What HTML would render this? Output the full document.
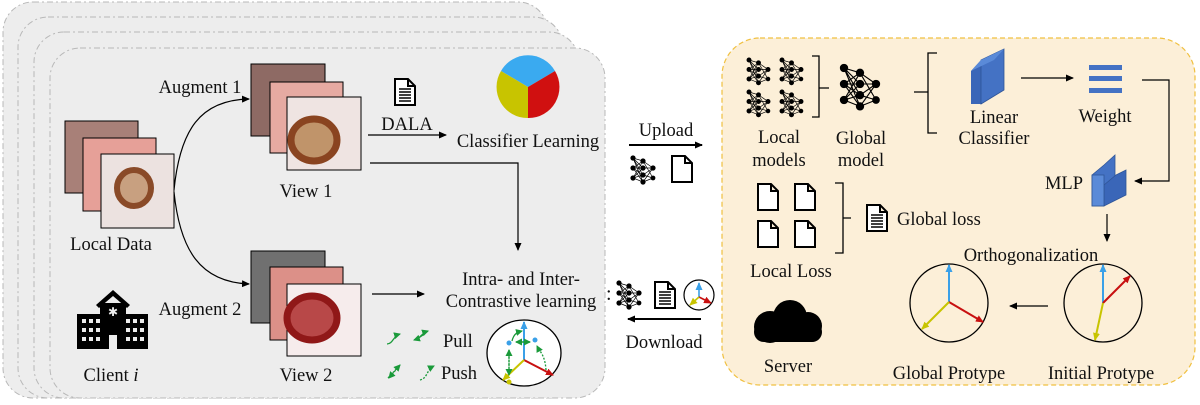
<!DOCTYPE html>
<html><head><meta charset="utf-8"><style>
html,body{margin:0;padding:0;background:#fff;}
svg{display:block;font-family:"Liberation Serif",serif;}
text{font-size:18.5px;fill:#111;}
</style></head><body>
<svg width="1200" height="405" viewBox="0 0 1200 405" xmlns="http://www.w3.org/2000/svg">
<defs>
<marker id="ar" markerWidth="8" markerHeight="8" refX="7" refY="4" orient="auto" markerUnits="userSpaceOnUse"><path d="M0,0.5 L8,4 L0,7.5z" fill="#000"/></marker>
<marker id="ab" markerWidth="8" markerHeight="8" refX="7" refY="4" orient="auto" markerUnits="userSpaceOnUse"><path d="M0,0.5 L8,4 L0,7.5z" fill="#3aa0e8"/></marker>
<marker id="arr" markerWidth="8" markerHeight="8" refX="7" refY="4" orient="auto" markerUnits="userSpaceOnUse"><path d="M0,0.5 L8,4 L0,7.5z" fill="#c81010"/></marker>
<marker id="ay" markerWidth="8" markerHeight="8" refX="7" refY="4" orient="auto" markerUnits="userSpaceOnUse"><path d="M0,0.5 L8,4 L0,7.5z" fill="#c8c400"/></marker>
<marker id="ag" markerWidth="7" markerHeight="7" refX="6" refY="3.5" orient="auto" markerUnits="userSpaceOnUse"><path d="M0,0 L7,3.5 L0,7z" fill="#1a9a3a"/></marker>
<g id="nn">
<g stroke="#000" stroke-width="0.7">
<path d="M0,0 L10,3 M0,0 L10,10 M0,0 L10,17 M0,10 L10,3 M0,10 L10,10 M0,10 L10,17 M0,20 L10,3 M0,20 L10,10 M0,20 L10,17 M0,20 L10,24 M0,10 L10,24 M0,0 L10,24 M10,3 L20,10 M10,10 L20,10 M10,17 L20,10 M10,24 L20,10 M10,3 L20,20 M10,17 L20,20 M10,24 L20,20"/>
</g>
<g fill="#000"><circle cx="0" cy="0" r="2.6"/><circle cx="0" cy="10" r="2.6"/><circle cx="0" cy="20" r="2.6"/><circle cx="10" cy="3" r="2.6"/><circle cx="10" cy="10" r="2.6"/><circle cx="10" cy="17" r="2.6"/><circle cx="10" cy="24" r="2.6"/><circle cx="20" cy="10" r="2.6"/><circle cx="20" cy="20" r="2.4"/></g>
</g>
<g id="doc"><path d="M0,0 H13 L20,7 V26 H0Z M13,0 V7 H20" fill="#fff" stroke="#000" stroke-width="2"/></g>
<g id="docl"><path d="M0,0 H13 L20,7 V26 H0Z M13,0 V7 H20" fill="#fff" stroke="#000" stroke-width="2"/><path d="M4,10 H16 M4,13 H16 M4,16 H16 M4,19 H16 M4,22 H16" stroke="#000" stroke-width="1.4"/></g>
</defs>

<g fill="#ededed" stroke="#b8b8b8" stroke-width="1" stroke-dasharray="6,3,2,3">
<rect x="3" y="2" width="545" height="396" rx="30"/>
<rect x="18" y="17" width="545" height="381" rx="30"/>
<rect x="34" y="32" width="545" height="366" rx="30"/>
<rect x="50" y="48" width="555" height="350" rx="30"/>
</g>

<rect x="65" y="121" width="73" height="72" fill="#a88078" stroke="#000"/>
<rect x="83" y="138" width="73" height="73" fill="#e6a098" stroke="#000"/>
<rect x="101" y="154" width="73" height="74" fill="#ece2e0" stroke="#000"/>
<ellipse cx="134" cy="188" rx="17" ry="18" fill="#c8a080" stroke="#8a4a28" stroke-width="6"/>
<text x="111" y="250" text-anchor="middle">Local Data</text>

<path d="M174,190 C180,130 200,100 249,99" fill="none" stroke="#000" stroke-width="1.2" marker-end="url(#ar)"/>
<path d="M174,192 C180,250 200,282 249,284" fill="none" stroke="#000" stroke-width="1.2" marker-end="url(#ar)"/>
<text x="200" y="93" text-anchor="middle">Augment 1</text>
<text x="200" y="315" text-anchor="middle">Augment 2</text>

<rect x="251" y="64" width="74" height="72" fill="#8e6a64" stroke="#000"/>
<rect x="270" y="82" width="73" height="71" fill="#e6aaa2" stroke="#000"/>
<rect x="287" y="97" width="74" height="73" fill="#efe4e2" stroke="#000"/>
<ellipse cx="314" cy="140" rx="23" ry="21" fill="#c0946a" stroke="#8a4420" stroke-width="7"/>
<text x="306" y="197" text-anchor="middle">View 1</text>

<rect x="251" y="251" width="74" height="72" fill="#707070" stroke="#000"/>
<rect x="270" y="267" width="73" height="73" fill="#dc9088" stroke="#000"/>
<rect x="287" y="284" width="74" height="72" fill="#f6ecec" stroke="#000"/>
<ellipse cx="312" cy="318" rx="25" ry="22" fill="#b84848" stroke="#901818" stroke-width="7"/>
<text x="306" y="381" text-anchor="middle">View 2</text>

<g fill="#000">
<path d="M113,290 L130,305 L127,308 L113,296 L99,308 L96,305Z"/>
<rect x="77" y="314" width="71" height="35"/>
<rect x="100" y="303" width="26" height="13"/>
</g>
<g fill="#ededed">
<rect x="82" y="319" width="4" height="4"/><rect x="89" y="319" width="4" height="4"/><rect x="96" y="319" width="4" height="4"/>
<rect x="126" y="319" width="4" height="4"/><rect x="133" y="319" width="4" height="4"/><rect x="140" y="319" width="4" height="4"/>
<rect x="82" y="328" width="4" height="4"/><rect x="89" y="328" width="4" height="4"/><rect x="96" y="328" width="4" height="4"/>
<rect x="126" y="328" width="4" height="4"/><rect x="133" y="328" width="4" height="4"/><rect x="140" y="328" width="4" height="4"/>
<rect x="82" y="337" width="4" height="4"/><rect x="89" y="337" width="4" height="4"/><rect x="96" y="337" width="4" height="4"/>
<rect x="126" y="337" width="4" height="4"/><rect x="133" y="337" width="4" height="4"/><rect x="140" y="337" width="4" height="4"/>
<rect x="109" y="335" width="8" height="14"/>
<text x="113" y="316" text-anchor="middle" style="font-size:12px;fill:#ededed">✱</text>
</g>
<text x="111" y="381" text-anchor="middle">Client <tspan font-style="italic">i</tspan></text>

<use href="#docl" x="395" y="79"/>
<text x="407" y="130" text-anchor="middle">DALA</text>
<line x1="368" y1="135" x2="446" y2="135" stroke="#000" stroke-width="1.2" marker-end="url(#ar)"/>
<text x="528" y="147" text-anchor="middle">Classifier Learning</text>
<path d="M528,87 L501,71 A31,31 0 0 1 555,71Z" fill="#3aaaf0"/>
<path d="M528,87 L555,71 A31,31 0 0 1 528,118Z" fill="#d01010"/>
<path d="M528,87 L528,118 A31,31 0 0 1 501,71Z" fill="#c8c400"/>

<path d="M370,163 H518 V250" fill="none" stroke="#000" stroke-width="1.2" marker-end="url(#ar)"/>
<line x1="372" y1="294" x2="424" y2="294" stroke="#000" stroke-width="1.2" marker-end="url(#ar)"/>
<text x="521" y="285" text-anchor="middle">Intra- and Inter-</text>
<text x="521" y="307" text-anchor="middle">Contrastive learning</text>

<g stroke="#1a9a3a" stroke-width="1.3" fill="none">
<path d="M387,344 C393,344 393,336 400,334" marker-end="url(#ag)"/>
<path d="M416,340 C420,338 422,333 428,331" marker-end="url(#ag)"/>
<path d="M428,331 C424,334 420,338 414,340" marker-end="url(#ag)"/>
<path d="M388,378 L400,365" stroke-dasharray="2,1.5" marker-end="url(#ag)"/>
<path d="M400,365 L389,378" stroke-dasharray="2,1.5" marker-end="url(#ag)"/>
<path d="M420,380 C428,378 426,370 434,366" stroke-dasharray="2,1.5" marker-end="url(#ag)"/>
</g>
<text x="443" y="347">Pull</text>
<text x="441" y="379">Push</text>
<ellipse cx="524" cy="353" rx="37" ry="33" fill="#fff" stroke="#000" stroke-width="1.3"/>
<line x1="524" y1="360" x2="524" y2="322" stroke="#3aa0e8" stroke-width="2" marker-end="url(#ab)"/>
<line x1="524" y1="360" x2="553" y2="375" stroke="#c81010" stroke-width="2" marker-end="url(#arr)"/>
<line x1="524" y1="360" x2="503" y2="380" stroke="#c8c400" stroke-width="2" marker-end="url(#ay)"/>
<circle cx="509" cy="343" r="2.5" fill="#3aa0e8"/><circle cx="535" cy="340" r="2.5" fill="#3aa0e8"/><circle cx="509" cy="382" r="2.5" fill="#c8c400"/>
<g stroke="#1a9a3a" stroke-width="1.3" fill="none">
<path d="M512,341 C514,333 518,332 522,331" marker-end="url(#ag)"/>
<path d="M516,342 L530,342" marker-end="url(#ag)"/>
<path d="M530,342 L516,342" marker-end="url(#ag)"/>
<path d="M509,372 L509,350" stroke-dasharray="2,1.5" marker-end="url(#ag)"/>
<path d="M509,350 L509,375" stroke-dasharray="2,1.5" marker-end="url(#ag)"/>
<path d="M546,370 C545,355 540,352 537,346" stroke-dasharray="2,1.5" marker-end="url(#ag)"/>
</g>
<text x="606" y="300" style="font-size:20px">:</text>

<text x="666" y="136" text-anchor="middle">Upload</text>
<line x1="629" y1="145" x2="702" y2="145" stroke="#000" stroke-width="2" marker-end="url(#ar)"/>
<g transform="translate(633,158)"><use href="#nn"/></g>
<use href="#doc" x="672" y="156"/>
<g transform="translate(619,283)"><use href="#nn"/></g>
<use href="#docl" x="655" y="282"/>
<circle cx="699" cy="295" r="15" fill="#fff" stroke="#000" stroke-width="1.2"/>
<line x1="699" y1="297" x2="699" y2="283" stroke="#3aa0e8" stroke-width="1.6" marker-end="url(#ab)"/>
<line x1="699" y1="297" x2="711" y2="303" stroke="#c81010" stroke-width="1.6" marker-end="url(#arr)"/>
<line x1="699" y1="297" x2="690" y2="305" stroke="#c8c400" stroke-width="1.6" marker-end="url(#ay)"/>
<line x1="701" y1="319" x2="628" y2="319" stroke="#000" stroke-width="2" marker-end="url(#ar)"/>
<text x="664" y="348" text-anchor="middle">Download</text>

<rect x="722" y="38" width="473" height="347" rx="38" fill="#fcefd8" stroke="#f0c040" stroke-width="1.2" stroke-dasharray="5,3"/>

<g transform="translate(749,60) scale(0.95)"><use href="#nn"/></g>
<g transform="translate(782,60) scale(0.95)"><use href="#nn"/></g>
<g transform="translate(749,92) scale(0.95)"><use href="#nn"/></g>
<g transform="translate(782,92) scale(0.95)"><use href="#nn"/></g>
<path d="M812,56 H819 V117 H812 M819,88 H829" fill="none" stroke="#000" stroke-width="1.3"/>
<text x="779" y="143" text-anchor="middle">Local</text>
<text x="779" y="166" text-anchor="middle">models</text>
<g transform="translate(844,68) scale(1.6)"><use href="#nn"/></g>
<text x="861" y="144" text-anchor="middle">Global</text>
<text x="861" y="166" text-anchor="middle">model</text>
<path d="M937,53 H928 V133 H937 M914,92 H928" fill="none" stroke="#000" stroke-width="1.3"/>

<path d="M971,71 L981,60 L981,104 L971,104Z" fill="#3a66b8"/>
<path d="M981,60 L1004,49 L1004,90 L981,104Z" fill="#4472c4" stroke="#2f5597" stroke-width="0.8"/>
<path d="M971,71 L994,60 L1004,49 L981,60Z" fill="#5a8ad8"/>
<text x="994" y="123" text-anchor="middle">Linear</text>
<text x="994" y="144" text-anchor="middle">Classifier</text>
<line x1="1021" y1="78" x2="1073" y2="78" stroke="#000" stroke-width="1.2" marker-end="url(#ar)"/>
<g fill="#4472c4"><rect x="1089" y="65" width="33" height="5"/><rect x="1089" y="76" width="33" height="5"/><rect x="1089" y="88" width="33" height="5"/></g>
<text x="1105" y="122" text-anchor="middle">Weight</text>
<path d="M1142,80 H1169 V181 H1135" fill="none" stroke="#000" stroke-width="1.2" marker-end="url(#ar)"/>

<path d="M1092,175 L1104,165 L1115,155 L1115,190 L1104,206 L1092,206Z" fill="#4472c4" stroke="#2f5597" stroke-width="0.8"/>
<path d="M1104,185 L1116,175 L1126,170 L1126,195 L1104,206Z" fill="#3a66b8" stroke="#2f5597" stroke-width="0.8"/>
<rect x="1092" y="175" width="12" height="31" fill="#5a8ad8" stroke="#2f5597" stroke-width="0.8"/>
<text x="1064" y="189" text-anchor="middle">MLP</text>
<line x1="1107" y1="214" x2="1107" y2="241" stroke="#000" stroke-width="1.2" marker-end="url(#ar)"/>
<text x="1031" y="261" text-anchor="middle">Orthogonalization</text>

<circle cx="949" cy="303" r="39" fill="none" stroke="#000" stroke-width="1.3"/>
<line x1="949" y1="302" x2="949" y2="265" stroke="#3aa0e8" stroke-width="2" marker-end="url(#ab)"/>
<line x1="949" y1="302" x2="983" y2="322" stroke="#c81010" stroke-width="2" marker-end="url(#arr)"/>
<line x1="949" y1="302" x2="922" y2="329" stroke="#c8c400" stroke-width="2" marker-end="url(#ay)"/>
<circle cx="1103" cy="303" r="39" fill="none" stroke="#000" stroke-width="1.3"/>
<line x1="1103" y1="303" x2="1103" y2="265" stroke="#3aa0e8" stroke-width="2" marker-end="url(#ab)"/>
<line x1="1103" y1="303" x2="1130" y2="276" stroke="#c81010" stroke-width="2" marker-end="url(#arr)"/>
<line x1="1103" y1="303" x2="1095" y2="340" stroke="#c8c400" stroke-width="2" marker-end="url(#ay)"/>
<line x1="1048" y1="306" x2="1010" y2="306" stroke="#000" stroke-width="1.2" marker-end="url(#ar)"/>
<text x="949" y="379" text-anchor="middle">Global Protype</text>
<text x="1101" y="379" text-anchor="middle">Initial Protype</text>

<use href="#doc" x="758" y="184"/><use href="#doc" x="795" y="184"/>
<use href="#doc" x="758" y="221"/><use href="#doc" x="795" y="221"/>
<path d="M835,183 H843 V253 H835 M843,218 H851" fill="none" stroke="#000" stroke-width="1.3"/>
<use href="#docl" x="867" y="205"/>
<text x="897" y="225">Global loss</text>
<text x="791" y="277" text-anchor="middle">Local Loss</text>

<g fill="#000">
<circle cx="770" cy="327" r="16"/><circle cx="790" cy="317" r="17"/><circle cx="808" cy="326" r="14"/>
<rect x="754" y="322" width="68" height="20" rx="10"/>
</g>
<text x="788" y="372" text-anchor="middle">Server</text>
</svg>
</body></html>
